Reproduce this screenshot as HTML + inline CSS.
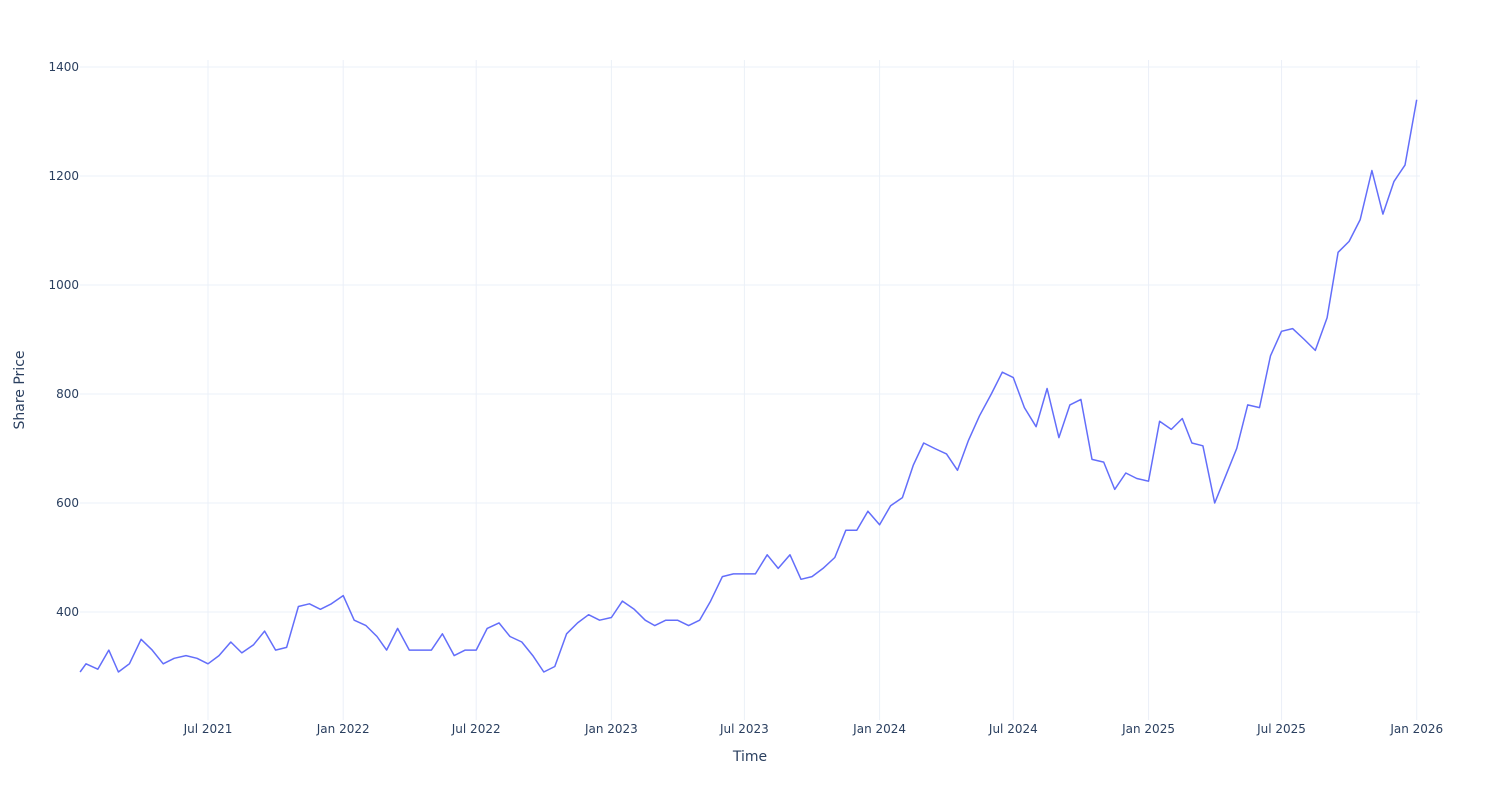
<!DOCTYPE html>
<html><head><meta charset="utf-8"><style>
body{margin:0;background:#fff;}
svg{display:block;font-family:"DejaVu Sans","Liberation Sans",sans-serif;}
</style></head><body>
<svg id="chart" width="1500" height="800">
<g id="grid"></g>
<g id="yticks"></g>
<g id="xticks"></g>
<path id="line" fill="none" stroke="#636efa" stroke-width="1.5" stroke-linejoin="round"></path>
<text x="750" y="761" text-anchor="middle" font-size="14" fill="#2a3f5f">Time</text>
<text x="24" y="390" text-anchor="middle" font-size="14" fill="#2a3f5f" transform="rotate(-90 24 390)">Share Price</text>
</svg>
<script>
const startDate = "2021-01-01";
const values = [290,305,295,330,290,305,350,330,305,315,320,315,305,320,345,325,340,365,330,335,
410,415,405,415,430,385,375,355,330,370,330,330,330,360,320,330,330,370,380,355,
345,320,290,300,360,380,395,385,390,420,405,385,375,385,385,375,385,420,465,470,
470,470,505,480,505,460,465,480,500,550,550,585,560,595,610,670,710,700,690,660,
715,760,800,840,830,775,740,810,720,780,790,680,675,625,655,645,640,750,735,755,
710,705,600,650,700,780,775,870,915,920,900,880,940,1060,1080,1120,1210,1130,1190,1220,1340];
const yTicks = [400,600,800,1000,1200,1400];
const xTickDates = ["2021-07-01","2022-01-01","2022-07-01","2023-01-01","2023-07-01","2024-01-01","2024-07-01","2025-01-01","2025-07-01","2026-01-01"];
const xTickLabels = ["Jul 2021","Jan 2022","Jul 2022","Jan 2023","Jul 2023","Jan 2024","Jul 2024","Jan 2025","Jul 2025","Jan 2026"];

const NS="http://www.w3.org/2000/svg";
const DAY=86400000;
const t0=Date.parse("2021-07-01");
function xScale(d){return 208+(Date.parse(d)-t0)/DAY*0.7348;}
function xScaleMs(ms){return 208+(ms-t0)/DAY*0.7348;}
function yScale(v){return 612-(v-400)*0.545;}

const grid=document.getElementById('grid');
const yt=document.getElementById('yticks');
const xt=document.getElementById('xticks');
yTicks.forEach(v=>{
  const l=document.createElementNS(NS,'line');
  
  
  l.setAttribute('x1',80);l.setAttribute('x2',1420);
  l.setAttribute('y1',yScale(v));l.setAttribute('y2',yScale(v));
  l.setAttribute('stroke','#ebf0f8');l.setAttribute('stroke-width','1');
  grid.appendChild(l);
  const t=document.createElementNS(NS,'text');
  
  
  t.setAttribute('x',79);t.setAttribute('y',yScale(v)+4);
  t.setAttribute('text-anchor','end');t.setAttribute('font-size','12');t.setAttribute('fill','#2a3f5f');
  t.textContent=v;yt.appendChild(t);
});
xTickDates.forEach((d,i)=>{
  const x=xScale(d);
  const l=document.createElementNS(NS,'line');
  
  
  l.setAttribute('x1',x);l.setAttribute('x2',x);
  l.setAttribute('y1',60);l.setAttribute('y2',720);
  l.setAttribute('stroke','#ebf0f8');l.setAttribute('stroke-width','1');
  grid.appendChild(l);
  const t=document.createElementNS(NS,'text');
  
  
  t.setAttribute('x',x);t.setAttribute('y',733);
  t.setAttribute('text-anchor','middle');t.setAttribute('font-size','12');t.setAttribute('fill','#2a3f5f');
  t.textContent=xTickLabels[i];xt.appendChild(t);
});
const s=new Date(startDate+"T00:00:00Z");
let dpath="";
values.forEach((v,k)=>{
  const m=Math.floor(k/2), half=k%2;
  const dt=Date.UTC(s.getUTCFullYear(),s.getUTCMonth()+m,half?16:1)+(k===0?7*DAY:0);
  const x=xScaleMs(dt), y=yScale(v);
  dpath+=(k?"L":"M")+x.toFixed(1)+","+y.toFixed(1);
});
document.getElementById('line').setAttribute('d',dpath);
</script>
</body></html>
